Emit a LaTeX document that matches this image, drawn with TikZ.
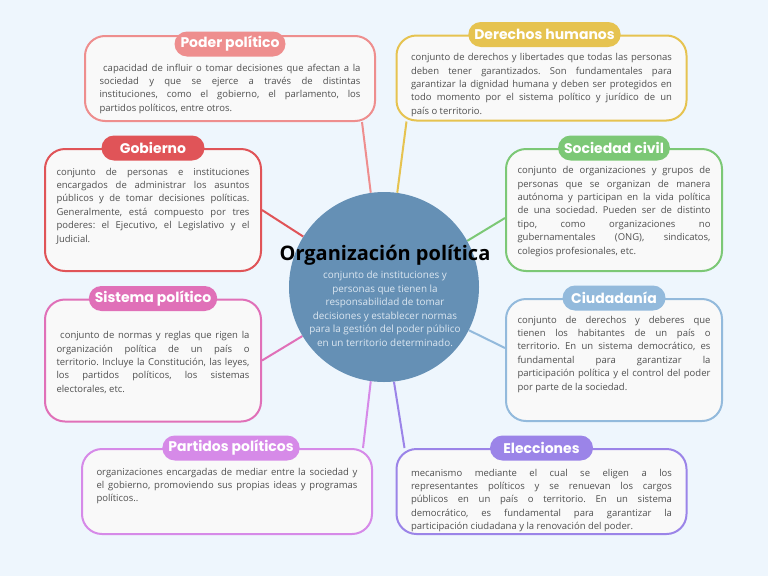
\documentclass[tikz,border=0pt]{standalone}
\usepackage{fontspec}
\setmainfont{Open Sans}
\newfontfamily\pillfont{Poppins}
\usetikzlibrary{positioning,backgrounds}
\frenchspacing

\definecolor{bgblue}{RGB}{238,246,253}
\definecolor{boxfill}{RGB}{249,249,249}
\definecolor{bodygrey}{RGB}{80,80,80}
\definecolor{orgblue}{RGB}{101,144,181}
\definecolor{orgtext}{RGB}{220,231,241}
\definecolor{poderC}{RGB}{238,142,142}
\definecolor{derechosC}{RGB}{230,195,80}
\definecolor{gobiernoC}{RGB}{224,84,88}
\definecolor{sociedadC}{RGB}{124,200,118}
\definecolor{sistemaC}{RGB}{224,112,184}
\definecolor{ciudadaniaC}{RGB}{147,186,220}
\definecolor{partidosC}{RGB}{214,138,232}
\definecolor{eleccionesC}{RGB}{155,132,232}

\begin{document}
\begin{tikzpicture}[x=1pt, y=-1pt,
    box/.style={draw, rounded corners=20pt, line width=2pt, fill=boxfill},
    wide/.style={box, minimum width=290pt, minimum height=85pt},
    narrow/.style={box, minimum width=216pt, minimum height=122pt},
    pill/.style={rounded corners=12.5pt, minimum height=25pt, minimum width=103pt, inner xsep=6pt, inner ysep=0pt, text=white, font=\pillfont\bfseries\fontsize{14}{15}\selectfont},
    desc/.style={inner sep=0pt, align=justify, text=bodygrey, font=\fontsize{9.5}{13.4}\selectfont},
    link/.style={line width=2pt}
]
    % centre
    \node [circle, fill=orgblue, minimum size=190pt, inner sep=0pt] (org) at (384,287) {};
    \node [inner sep=0pt, font=\bfseries\fontsize{20}{22}\selectfont] (orgTitle) at (385,255.5) {Organización política};
    \node [inner sep=0pt, align=center, text=orgtext, font=\fontsize{9.9}{13.6}\selectfont, below=5pt of orgTitle] (orgText)
        {conjunto de instituciones y\\personas que tienen la\\responsabilidad de tomar\\decisiones y establecer normas\\para la gestión del poder público\\en un territorio determinado.};

    % cajas de arriba
    \node [wide, draw=poderC] (poder) at (230,78.5) {};
    \node [pill, fill=poderC, yshift=-9pt] (poderTitle) at (poder.north) {Poder político};
    \node [desc, text width=261pt, below=7pt of poderTitle] (poderText)
        {\ capacidad de influir o tomar decisiones que afectan a la\linebreak
         sociedad y que se ejerce a través de distintas\linebreak
         instituciones, como el gobierno, el parlamento, los\linebreak
         partidos políticos, entre otros.};

    \node [wide, draw=derechosC] (derechos) at (541.5,78) {};
    \node [pill, fill=derechosC, xshift=3pt] (derechosTitle) at (derechos.north) {Derechos humanos};
    \node [desc, text width=261pt, below=6pt of derechosTitle, xshift=-3pt] (derechosText)
        {conjunto de derechos y libertades que todas las personas\linebreak
         deben tener garantizados. Son fundamentales para\linebreak
         garantizar la dignidad humana y deben ser protegidos en\linebreak
         todo momento por el sistema político y jurídico de un\linebreak
         país o territorio.};

    % cajas de los lados
    \node [narrow, draw=gobiernoC] (gobierno) at (153,210) {};
    \node [pill, fill=gobiernoC] (gobiernoTitle) at (gobierno.north) {Gobierno};
    \node [desc, text width=193pt, below=7pt of gobiernoTitle] (gobiernoText)
        {conjunto de personas e instituciones\linebreak
         encargados de administrar los asuntos\linebreak
         públicos y de tomar decisiones políticas.\linebreak
         Generalmente, está compuesto por tres\linebreak
         poderes: el Ejecutivo, el Legislativo y el\linebreak
         Judicial.};

    \node [narrow, draw=sociedadC] (sociedad) at (614,210) {};
    \node [pill, fill=sociedadC] (sociedadTitle) at (sociedad.north) {Sociedad civil};
    \node [desc, text width=193pt, below=5.5pt of sociedadTitle] (sociedadText)
        {conjunto de organizaciones y grupos de\linebreak
         personas que se organizan de manera\linebreak
         autónoma y participan en la vida política\linebreak
         de una sociedad. Pueden ser de distinto\linebreak
         tipo, como organizaciones no\linebreak
         gubernamentales (ONG), sindicatos,\linebreak
         colegios profesionales, etc.};

    \node [narrow, draw=sistemaC] (sistema) at (153,360.5) {};
    \node [pill, fill=sistemaC] (sistemaTitle) at (sistema.north) {Sistema político};
    \node [desc, text width=193pt, below=20pt of sistemaTitle] (sistemaText)
        {\ conjunto de normas y reglas que rigen la\linebreak
         organización política de un país o\linebreak
         territorio. Incluye la Constitución, las leyes,\linebreak
         los partidos políticos, los sistemas\linebreak
         electorales, etc.};

    \node [narrow, draw=ciudadaniaC] (ciudadania) at (614,360) {};
    \node [pill, fill=ciudadaniaC] (ciudadaniaTitle) at (ciudadania.north) {Ciudadanía};
    \node [desc, text width=193pt, below=5pt of ciudadaniaTitle] (ciudadaniaText)
        {conjunto de derechos y deberes que\linebreak
         tienen los habitantes de un país o\linebreak
         territorio. En un sistema democrático, es\linebreak
         fundamental para garantizar la\linebreak
         participación política y el control del poder\linebreak
         por parte de la sociedad.};

    % cajas de abajo
    \node [wide, draw=partidosC] (partidos) at (227,491.5) {};
    \node [pill, fill=partidosC, xshift=4pt] (partidosTitle) at (partidos.north) {Partidos políticos};
    \node [desc, text width=261pt, below=7pt of partidosTitle, xshift=-4pt] (partidosText)
        {organizaciones encargadas de mediar entre la sociedad y\linebreak
         el gobierno, promoviendo sus propias ideas y programas\linebreak
         políticos..};

    \node [wide, draw=eleccionesC] (elecciones) at (541.5,491.5) {};
    \node [pill, fill=eleccionesC] (eleccionesTitle) at (elecciones.north) {Elecciones};
    \node [desc, text width=261pt, below=8pt of eleccionesTitle] (eleccionesText)
        {mecanismo mediante el cual se eligen a los\linebreak
         representantes políticos y se renuevan los cargos\linebreak
         públicos en un país o territorio. En un sistema\linebreak
         democrático, es fundamental para garantizar la\linebreak
         participación ciudadana y la renovación del poder.};

    % fondo y conexiones
    \begin{scope}[on background layer]
        \fill [bgblue] (0,0) rectangle (768,576);
        \draw [link, poderC] (org.98) -- ([xshift=-14pt]poder.south east);
        \draw [link, derechosC] (org.82) -- ([xshift=11pt]derechos.south west);
        \draw [link, gobiernoC] (org.148) -- (gobierno.east);
        \draw [link, sociedadC] (org.29) -- ([yshift=-8pt]sociedad.west);
        \draw [link, sistemaC] (org.211) -- (sistema.east);
        \draw [link, ciudadaniaC] (org.333) -- ([yshift=12pt]ciudadania.west);
        \draw [link, partidosC] (org.262) -- ([xshift=-10pt]partidos.north east);
        \draw [link, eleccionesC] (org.276) -- ([xshift=9pt]elecciones.north west);
    \end{scope}
\end{tikzpicture}
\end{document}
